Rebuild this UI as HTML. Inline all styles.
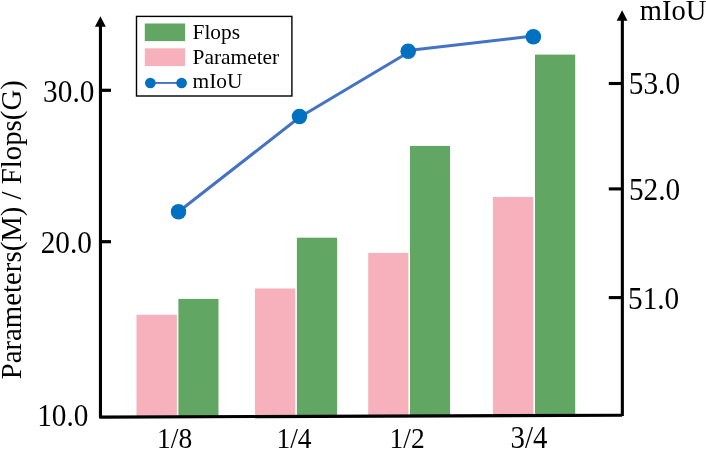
<!DOCTYPE html>
<html lang="en">
<head>
<meta charset="utf-8">
<title>Parameters / Flops / mIoU chart</title>
<style>
html,body{margin:0;padding:0;background:#fff;}
body{width:706px;height:449px;overflow:hidden;}
svg{display:block;}
text{font-family:"Liberation Serif","Times New Roman",serif;fill:#000;}
</style>
</head>
<body>
<svg width="706" height="449" viewBox="0 0 706 449">
<rect x="0" y="0" width="706" height="449" fill="#ffffff"/>

<!-- bars -->
<g fill="#f7b1bc">
<rect x="136.5" y="314.7" width="40.4" height="102"/>
<rect x="254.9" y="288.5" width="40.3" height="128"/>
<rect x="368.2" y="252.9" width="40.2" height="164"/>
<rect x="492.9" y="197.0" width="40.4" height="219"/>
</g>
<g fill="#61a663">
<rect x="178.4" y="298.9" width="40.1" height="118"/>
<rect x="296.9" y="237.7" width="40.2" height="179"/>
<rect x="410.0" y="145.9" width="40.1" height="271"/>
<rect x="535.0" y="54.6" width="40.2" height="362"/>
</g>

<!-- axes -->
<g stroke="#000" fill="none">
<path d="M100.45,25 L100.45,417.15 L622.1,415.2" stroke-width="3.1" stroke-linejoin="round"/>
<line x1="622.35" y1="415.9" x2="622.35" y2="19" stroke-width="3.1"/>
<!-- left ticks -->
<line x1="100" y1="90.3" x2="111" y2="90.3" stroke-width="3.2"/>
<line x1="100" y1="241.7" x2="111" y2="241.7" stroke-width="3.2"/>
<!-- right ticks -->
<line x1="608.8" y1="83.5" x2="622" y2="83.5" stroke-width="3.1"/>
<line x1="608.8" y1="188.9" x2="622" y2="188.9" stroke-width="3.1"/>
<line x1="608.8" y1="297.6" x2="622" y2="297.6" stroke-width="3.1"/>
</g>
<polygon points="94.9,26.8 105.8,26.8 100.4,16.3" fill="#000"/>
<polygon points="616.7,20.8 627.5,20.8 622.1,10.3" fill="#000"/>

<!-- mIoU line -->
<g stroke="#4472c4" stroke-width="3" fill="none" stroke-linecap="round">
<line x1="178.5" y1="211.8" x2="299.5" y2="117.3"/>
<line x1="299.5" y1="117.3" x2="408.2" y2="52.5"/>
<line x1="408.2" y1="50.5" x2="533.3" y2="36.0"/>
</g>
<g fill="#0070c0">
<circle cx="178.5" cy="211.85" r="7.75"/>
<circle cx="299.5" cy="116.6" r="7.75"/>
<circle cx="408.2" cy="51.2" r="7.8"/>
<circle cx="533.35" cy="36.7" r="7.8"/>
</g>

<!-- legend -->
<rect x="136.5" y="16.4" width="155.4" height="79.6" fill="#fff" stroke="#000" stroke-width="1.4"/>
<rect x="144.8" y="23.5" width="40.3" height="17.6" fill="#61a663"/>
<rect x="144.8" y="48.3" width="40.3" height="17.8" fill="#f7b1bc"/>
<line x1="150.4" y1="82.95" x2="181.6" y2="82.95" stroke="#4472c4" stroke-width="1.9"/>
<circle cx="150.35" cy="83.0" r="5.35" fill="#0070c0"/>
<circle cx="181.6" cy="83.0" r="5.35" fill="#0070c0"/>
<g font-size="21.4px">
<text x="192.5" y="39.1">Flops</text>
<text x="192.5" y="63.6">Parameter</text>
<text x="192.5" y="88.0">mIoU</text>
</g>

<!-- tick labels -->
<g font-size="29.3px">
<text transform="translate(43.1,101.5) scale(1,1.06)">30.0</text>
<text transform="translate(40.7,252.5) scale(1,1.06)">20.0</text>
<text transform="translate(37.2,425.5) scale(1,1.06)">10.0</text>
<text transform="translate(628.8,93.9) scale(1,1.06)">53.0</text>
<text transform="translate(628.9,199.6) scale(1,1.06)">52.0</text>
<text transform="translate(628.0,309.4) scale(1,1.06)">51.0</text>
</g>
<g font-size="27.5px">
<text transform="translate(157.1,447.5) scale(1,1.07)">1/8</text>
<text transform="translate(276.4,447.6) scale(1,1.07)">1/4</text>
<text transform="translate(389.6,447.8) scale(1,1.07)">1/2</text>
<text transform="translate(510.6,447.8) scale(1,1.07)" font-size="28.8px">3/4</text>
</g>
<text x="639.8" y="20.4" font-size="28.5px">mIoU</text>
<text transform="translate(21.1,379.3) rotate(-90)" font-size="28.8px">Parameters(M) / Flops(G)</text>
</svg>
</body>
</html>
